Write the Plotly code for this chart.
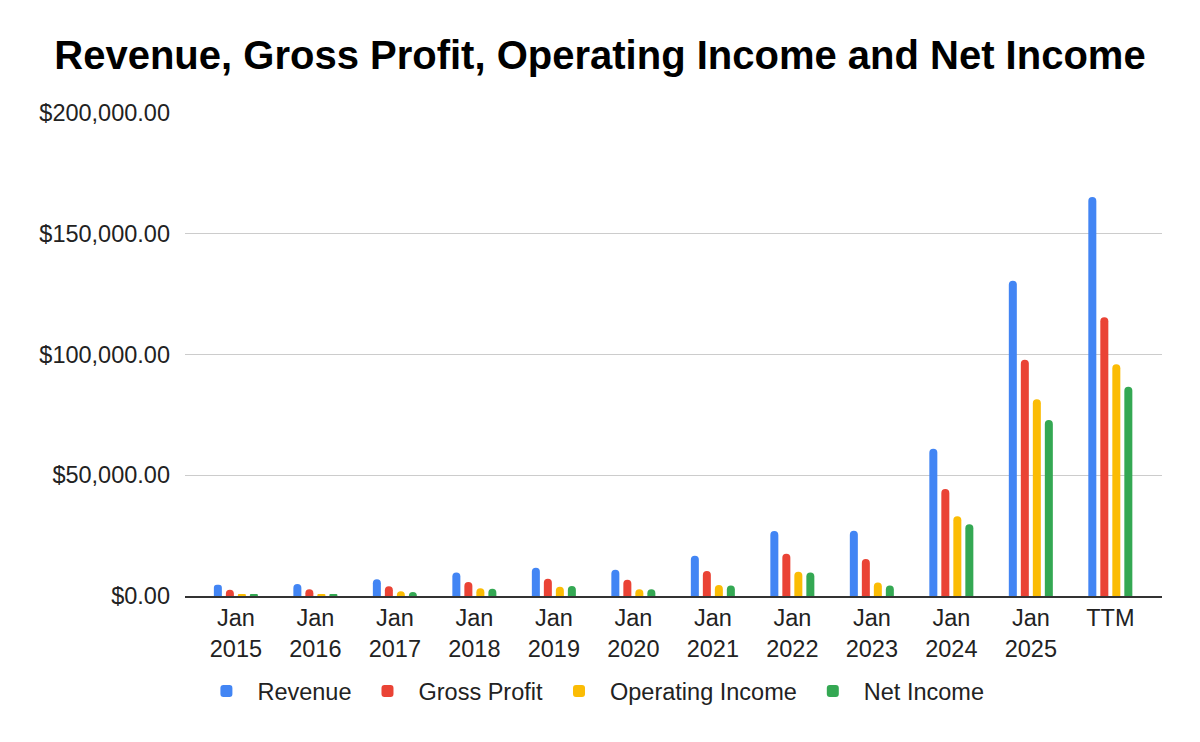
import plotly.graph_objects as go

categories = ["Jan<br>2015", "Jan<br>2016", "Jan<br>2017", "Jan<br>2018", "Jan<br>2019", "Jan<br>2020",
              "Jan<br>2021", "Jan<br>2022", "Jan<br>2023", "Jan<br>2024", "Jan<br>2025", "TTM"]
revenue = [4682, 5010, 6910, 9714, 11716, 10918, 16675, 26914, 26974, 60922, 130497, 165218]
gross_profit = [2625, 2811, 4063, 5822, 7171, 6768, 10396, 17475, 15356, 44301, 97858, 115400]
operating_income = [759, 747, 1934, 3210, 3804, 2846, 4532, 10041, 5577, 32972, 81453, 96000]
net_income = [631, 614, 1666, 3047, 4141, 2796, 4332, 9752, 4368, 29760, 72880, 86600]

series = [
    ("Revenue", revenue, "#4285F4"),
    ("Gross Profit", gross_profit, "#EA4335"),
    ("Operating Income", operating_income, "#FBBC04"),
    ("Net Income", net_income, "#34A853"),
]

FONT = "Arial, Liberation Sans, sans-serif"
TICK = 23.5

fig = go.Figure()
for name, vals, color in series:
    fig.add_trace(go.Bar(
        x=categories, y=vals, name=name,
        marker=dict(color=color, cornerradius=4, line=dict(width=0)),
    ))

fig.update_layout(
    width=1200, height=742,
    paper_bgcolor="white", plot_bgcolor="white",
    margin=dict(l=177, r=46, t=105, b=154, autoexpand=False),
    barmode="group", bargap=0.396, bargroupgap=0.333,
    font=dict(family=FONT, size=TICK, color="#222222"),
    title=dict(
        text="<b>Revenue, Gross Profit, Operating Income and Net Income</b>",
        x=592 / 1200, xanchor="center", xref="container",
        y=1 - 47 / 742, yanchor="middle", yref="container",
        font=dict(family=FONT, size=40, color="#000000"),
    ),
    legend=dict(
        orientation="h", x=0.417, xanchor="center",
        y=-0.197, yanchor="middle",
        font=dict(family=FONT, size=TICK, color="#222222"),
        traceorder="normal", itemwidth=52,
    ),
    showlegend=True,
)
fig.update_yaxes(
    range=[0, 200000], dtick=50000, tick0=0,
    tickprefix="$", tickformat=",.2f",
    showgrid=True, gridcolor="#cccccc", gridwidth=1,
    zeroline=False, showline=False, ticks="",
    ticklabelstandoff=14,
    tickfont=dict(family=FONT, size=TICK, color="#222222"),
)
fig.update_xaxes(
    range=[-0.64, 11.65],
    showline=True, linecolor="#333333", linewidth=2,
    ticks="", showgrid=False, tickangle=0,
    tickfont=dict(family=FONT, size=TICK, color="#222222"),
)

fig.write_html("out.html")
